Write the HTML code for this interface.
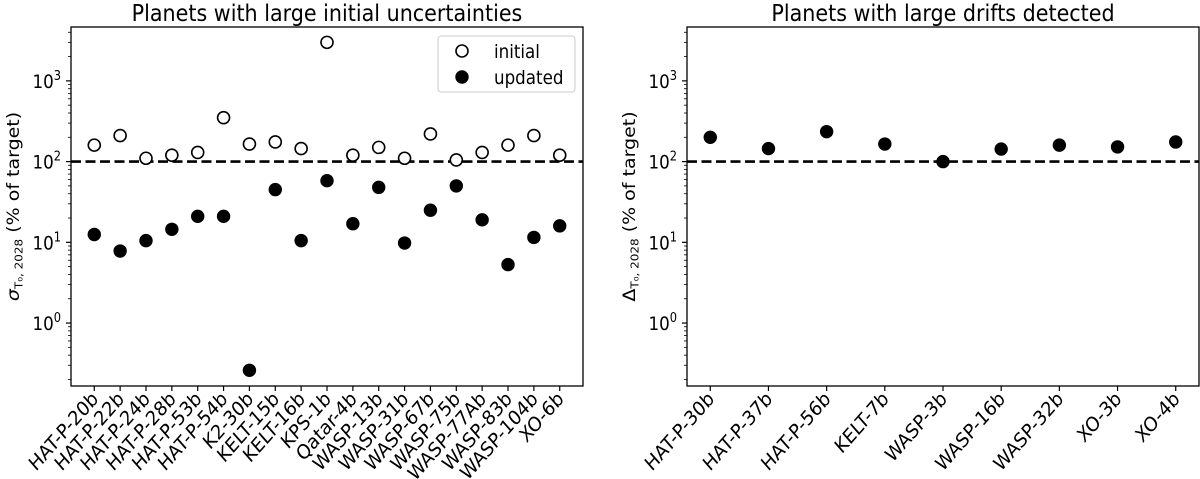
<!DOCTYPE html>
<html><head><meta charset="utf-8">
<style>
body{margin:0;background:#fff;}
svg{display:block;font-family:"DejaVu Sans","Liberation Sans",sans-serif;}
</style></head>
<body>
<svg id="fig" width="1200" height="479" viewBox="0 0 1200 479"></svg>
<script>
const leftCategories=["HAT-P-20b","HAT-P-22b","HAT-P-24b","HAT-P-28b","HAT-P-53b","HAT-P-54b","K2-30b","KELT-15b","KELT-16b","KPS-1b","Qatar-4b","WASP-13b","WASP-31b","WASP-67b","WASP-75b","WASP-77Ab","WASP-83b","WASP-104b","XO-6b"];
const initialValues=[160,210,110,120,130,350,165,175,145,3000,120,150,110,220,105,130,160,210,120];
const updatedValues=[12.5,7.8,10.5,14.5,21,21,0.26,45,10.5,58,17,48,9.8,25,50,19,5.3,11.5,16];
const rightCategories=["HAT-P-30b","HAT-P-37b","HAT-P-56b","KELT-7b","WASP-3b","WASP-16b","WASP-32b","XO-3b","XO-4b"];
const driftValues=[200,145,235,165,100,143,160,152,175];
const yTickExps=[0,1,2,3];
const targetLevel=100;

const NS="http://www.w3.org/2000/svg";
const svg=document.getElementById('fig');
const SX=0.88;
function mk(tag,attrs,parent){const e=document.createElementNS(NS,tag);for(const k in attrs)e.setAttribute(k,attrs[k]);(parent||svg).appendChild(e);return e;}
function txt(x,y,rot,anchor,size,parent){return mk('text',{transform:`translate(${x},${y}) scale(${SX},1)`+(rot?` rotate(${rot})`:''),'text-anchor':anchor,'font-size':size},parent);}
const TOP=27,BOT=386,YMIN=Math.log10(0.166),YMAX=Math.log10(4650);
function yScale(v){return BOT-(Math.log10(v)-YMIN)/(YMAX-YMIN)*(BOT-TOP);}

function panel(x0,x1,cats,title,ylab,prefix){
  const g=mk('g',{});
  
  
  const n=cats.length;
  const span=(x1-x0)/((n-1)*1.1);
  const pad=0.05*span*(n-1);
  const xScale=i=>x0+pad+i*span;
  const t=txt((x0+x1)/2,21,0,'middle',23.5,g);t.textContent=title;
  
  
  for(let e=-1;e<=3;e++){
    for(let m=1;m<10;m++){
      const v=m*Math.pow(10,e);if(v<0.166||v>4650)continue;
      const y=yScale(v);
      mk('line',{x1:x0,x2:x0-(m===1?5:3),y1:y,y2:y,stroke:'#000','stroke-width':m===1?1.2:0.8},g);
    }
  }
  yTickExps.forEach(e=>{
    const y=yScale(Math.pow(10,e));
    const tx=txt(x0-10,y+7,0,'end',19,g);
    tx.innerHTML='10<tspan dy="-8" font-size="13">'+e+'</tspan>';
    
    
  });
  const yl=txt(x0-52,(TOP+BOT)/2,-90,'middle',19,g);
  yl.innerHTML=ylab;
  
  
  cats.forEach((c,i)=>{
    const x=xScale(i);
    mk('line',{x1:x,x2:x,y1:BOT,y2:BOT+5,stroke:'#000','stroke-width':1.2},g);
    const tl=txt(x+5,BOT+14,-45,'end',20,g);
    tl.textContent=c;
    
    
  });
  const dl=mk('line',{x1:x0,x2:x1,y1:yScale(targetLevel),y2:yScale(targetLevel),stroke:'#000','stroke-width':2.6,'stroke-dasharray':'10,4.5'},g);
  
  
  const fr=mk('rect',{x:x0,y:TOP,width:x1-x0,height:BOT-TOP,fill:'none',stroke:'#000','stroke-width':1.3},g);
  
  
  return {g,xScale};
}

const L=panel(71,583,leftCategories,'Planets with large initial uncertainties','<tspan font-style="italic">σ</tspan><tspan font-size="12" dy="4">T₀, 2028</tspan><tspan dy="-4"> (% of target)</tspan>','left');
initialValues.forEach((v,i)=>{
  const c=mk('circle',{cx:L.xScale(i),cy:yScale(v),r:6,fill:'#fff',stroke:'#000','stroke-width':1.6},L.g);
  
  
});
updatedValues.forEach((v,i)=>{
  const c=mk('circle',{cx:L.xScale(i),cy:yScale(v),r:6.7,fill:'#000'},L.g);
  
  
});
const lg=mk('g',{});


mk('rect',{x:438,y:36,width:137,height:56,rx:3,fill:'#fff',stroke:'#ccc','stroke-width':1},lg);
mk('circle',{cx:462,cy:51,r:6,fill:'#fff',stroke:'#000','stroke-width':1.6},lg);
mk('circle',{cx:462,cy:77,r:6.7,fill:'#000'},lg);
const le1=txt(494,58,0,'start',19,lg);le1.textContent='initial';


const le2=txt(494,84,0,'start',19,lg);le2.textContent='updated';



const R=panel(687,1199,rightCategories,'Planets with large drifts detected','Δ<tspan font-size="12" dy="4">T₀, 2028</tspan><tspan dy="-4"> (% of target)</tspan>','right');
driftValues.forEach((v,i)=>{
  const c=mk('circle',{cx:R.xScale(i),cy:yScale(v),r:6.7,fill:'#000'},R.g);
  
  
});
</script>
</body></html>
